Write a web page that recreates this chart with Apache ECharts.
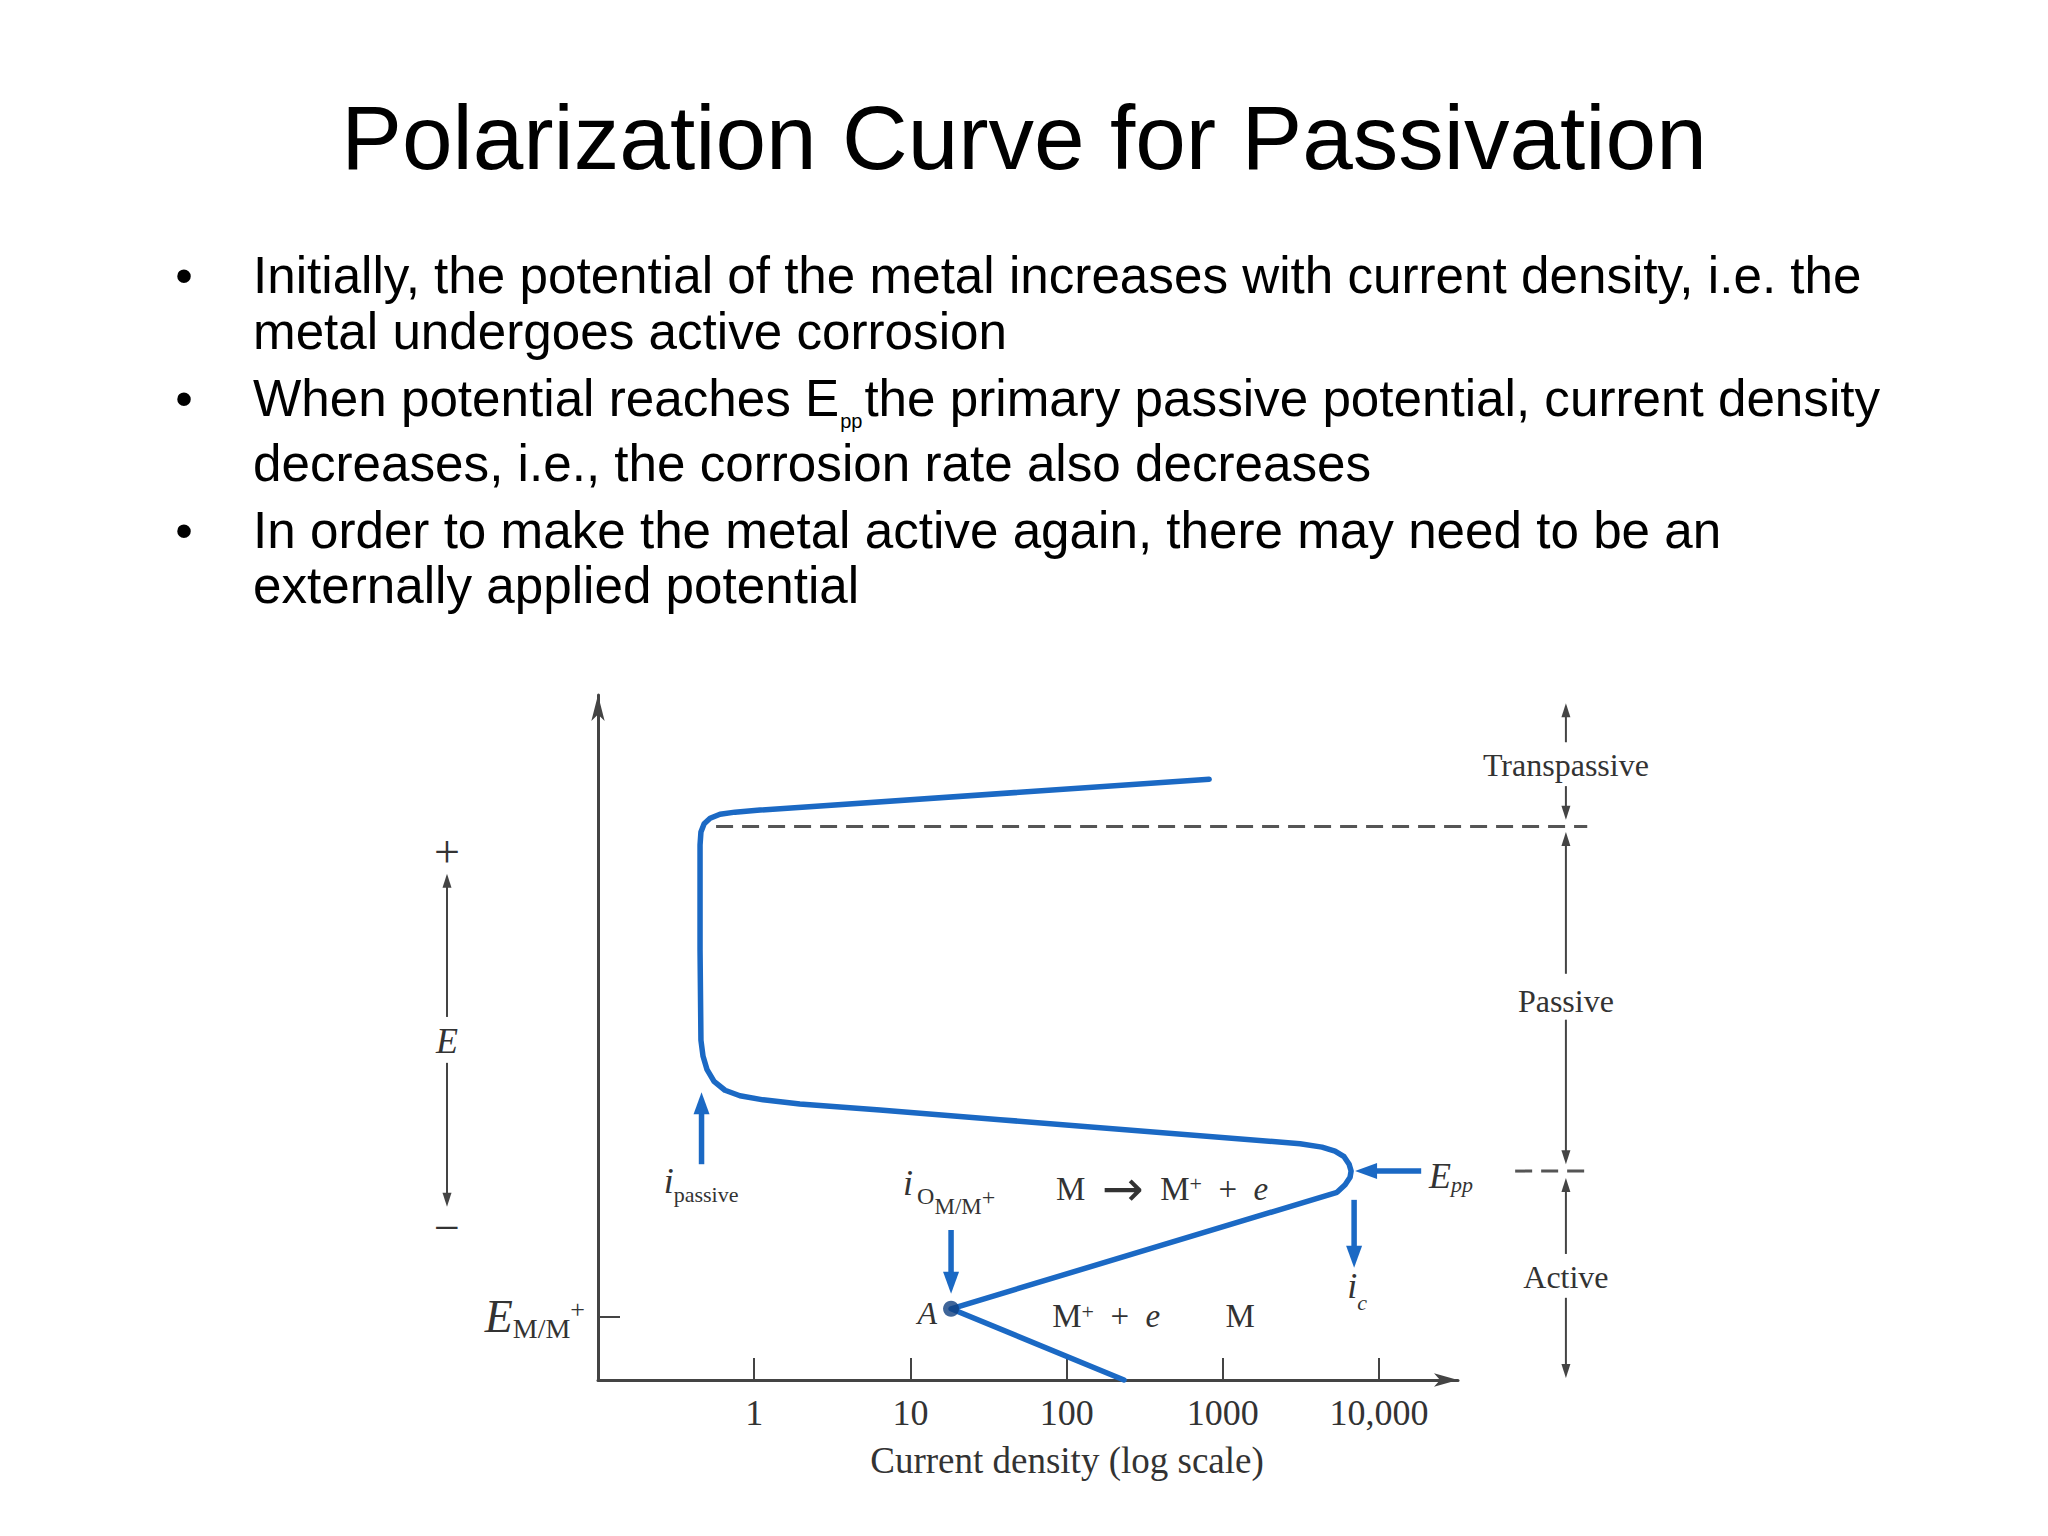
<!DOCTYPE html>
<html><head><meta charset="utf-8">
<script src="https://cdn.jsdelivr.net/npm/echarts@6/dist/echarts.min.js"></script>
<style>html,body{margin:0;padding:0;background:#fff}#c{width:2048px;height:1536px}</style>
</head><body><div id="c"></div>
<script>
// ---------- text content ----------
const titleText = 'Polarization Curve for Passivation';
const bulletLines = [
  '{t|Initially, the potential of the metal increases with current density, i.e. the}',
  '{t|metal undergoes active corrosion}',
  '{t|When potential reaches E}{p|pp}{t|the primary passive potential, current density}',
  '{t|decreases, i.e., the corrosion rate also decreases}',
  '{t|In order to make the metal active again, there may need to be an}',
  '{t|externally applied potential}'
];
const bulletStarts = [0, 2, 4];

// ---------- chart data (current density, log scale / potential, arbitrary units) ----------
const curveCurrent = [233, 18.2, 5380, 6060, 6520, 6620, 6430, 5970, 5220, 4310, 3120, 37.5, 6.38, 1.96, 1.14, 0.81, 0.65, 0.553, 0.499, 0.470, 0.456, 0.450, 0.450, 0.456, 0.478, 0.522, 0.604, 0.753, 1.09, 817];
const curvePotential = [0, 10.4, 27.4, 28.5, 29.6, 30.5, 31.5, 32.6, 33.4, 34.0, 34.5, 38.0, 39.4, 40.3, 40.9, 41.5, 42.3, 43.6, 45.3, 47.3, 49.6, 62.8, 78.1, 80.0, 81.2, 82.0, 82.6, 82.9, 83.2, 87.7];
const pointA = [18.2, 10.4];
const eqPotential = 9.3;           // E M/M+
const tickValues = [1, 10, 100, 1000, 10000];
const tickLabels = ['1', '10', '100', '1000', '10,000'];

// arrows [i1, E1, i2, E2]
const blueArrows = [
  [0.46, 31.5, 0.46, 42.0],
  [18.2, 21.9, 18.2, 12.6],
  [18600, 30.5, 7020, 30.5],
  [6920, 26.3, 6920, 16.4]
];
const grayArrows = [
  [157000, 93.1, 157000, 98.8],
  [157000, 86.7, 157000, 81.8],
  [157000, 59.3, 157000, 80.0],
  [157000, 52.6, 157000, 31.5],
  [157000, 18.4, 157000, 29.5],
  [157000, 12.0, 157000, 0.3],
  [0.0108, 53.0, 0.0108, 73.9],
  [0.0108, 46.3, 0.0108, 25.3]
];
const dashedLines = [
  [0.57, 80.8, 215000, 80.8],
  [74300, 30.5, 234000, 30.5]
];
const labelTexts = [
  '{i|i}{s|passive}',
  '{i|i}{o|O}{m|M/M}{q|+}',
  '{r|M  }{ar|\u2192}{r|  M}{u|+}{r|  +  }{e|e}',
  '{r|M}{u|+}{r|  +  }{e|e}',
  '{r|M}',
  '{ei|E}{si|pp}',
  '{i|i}{ci|c}',
  '{a|A}',
  '{g|Transpassive}',
  '{g|Passive}',
  '{g|Active}',
  '{ei|E}',
  '{pm|+}',
  '{pm|\u2212}'
];
const labelCurrent = [0.457, 17.7, 408, 179, 1290, 28900, 7230, 12.8, 157000, 157000, 157000, 0.0108, 0.0108, 0.0108];
const labelPotential = [29.1, 28.8, 27.9, 9.3, 9.3, 29.8, 13.7, 9.8, 89.8, 55.3, 15.0, 49.5, 77.2, 22.2];

// ---------- styles ----------
const SANS = '"Liberation Sans", Arial, Helvetica, sans-serif';
const SERIF = '"Liberation Serif", "Times New Roman", Times, serif';
const BLUE = '#1b69c4';
const INK = '#333333';
const LH = 44;
const RICH = {
  i:  {fontFamily: SERIF, fontStyle: 'italic', fontSize: 36, lineHeight: LH, color: INK},
  s:  {fontFamily: SERIF, fontSize: 22, lineHeight: LH, padding: [28, 0, 0, 0], color: INK},
  o:  {fontFamily: SERIF, fontSize: 24, lineHeight: LH, padding: [26, 0, 0, 4], color: INK},
  m:  {fontFamily: SERIF, fontSize: 23, lineHeight: LH, padding: [47, 0, 0, 0], color: INK},
  q:  {fontFamily: SERIF, fontSize: 24, lineHeight: LH, padding: [28, 0, 0, 0], color: INK},
  r:  {fontFamily: SERIF, fontSize: 33, lineHeight: LH, color: INK},
  u:  {fontFamily: SERIF, fontSize: 22, lineHeight: LH, padding: [0, 0, 10, 0], color: INK},
  e:  {fontFamily: SERIF, fontStyle: 'italic', fontSize: 33, lineHeight: LH, color: INK},
  ar: {fontFamily: '"DejaVu Sans", sans-serif', fontSize: 50, lineHeight: LH, color: INK},
  ei: {fontFamily: SERIF, fontStyle: 'italic', fontSize: 36, lineHeight: LH, color: INK},
  si: {fontFamily: SERIF, fontStyle: 'italic', fontSize: 22, lineHeight: LH, padding: [18, 0, 0, 0], color: INK},
  ci: {fontFamily: SERIF, fontStyle: 'italic', fontSize: 22, lineHeight: LH, padding: [32, 0, 0, 0], color: INK},
  a:  {fontFamily: SERIF, fontStyle: 'italic', fontSize: 32, lineHeight: LH, color: INK},
  g:  {fontFamily: SERIF, fontSize: 32, lineHeight: LH, color: '#444'},
  pm: {fontFamily: SERIF, fontSize: 46, lineHeight: LH, color: INK}
};

function arrowRenderer(color, shaft, headLen, headW) {
  return function (params, api) {
    const a = api.coord([api.value(0), api.value(1)]);
    const b = api.coord([api.value(2), api.value(3)]);
    const dx = b[0] - a[0], dy = b[1] - a[1];
    const len = Math.sqrt(dx * dx + dy * dy) || 1;
    const ux = dx / len, uy = dy / len;
    const bx = b[0] - ux * headLen, by = b[1] - uy * headLen;
    const nx = -uy * headW / 2, ny = ux * headW / 2;
    return {
      type: 'group',
      children: [
        {type: 'line', shape: {x1: a[0], y1: a[1], x2: bx + ux * 2, y2: by + uy * 2}, style: {stroke: color, lineWidth: shaft}},
        {type: 'polygon', shape: {points: [[b[0], b[1]], [bx + nx, by + ny], [bx - nx, by - ny]]}, style: {fill: color}}
      ]
    };
  };
}
function dashRenderer(params, api) {
  const a = api.coord([api.value(0), api.value(1)]);
  const b = api.coord([api.value(2), api.value(3)]);
  return {type: 'line', shape: {x1: a[0], y1: a[1], x2: b[0], y2: b[1]},
    style: {stroke: '#555', lineWidth: 3, lineDash: [17, 9]}};
}
function labelRenderer(params, api) {
  const p = api.coord([api.value(0), api.value(1)]);
  return {type: 'text', x: p[0], y: p[1], style: {
    text: labelTexts[api.value(2)], rich: RICH, align: 'center', verticalAlign: 'middle',
    fill: INK, fontFamily: SERIF, fontSize: 32}};
}

// ---------- slide text as graphic ----------
const graphics = [{
  type: 'text', x: 1024, y: 137,
  style: {text: titleText, fontFamily: SANS, fontSize: 91, fill: '#000', align: 'center', verticalAlign: 'middle'}
}];
const lineMid = [275.6, 331.6, 398.6, 463.6, 530.6, 585.6];
bulletLines.forEach(function (t, k) {
  graphics.push({type: 'text', x: 253, y: lineMid[k], style: {
    text: t, align: 'left', verticalAlign: 'middle', fill: '#000',
    rich: {
      t: {fontFamily: SANS, fontSize: 51.2, lineHeight: 60, color: '#000'},
      p: {fontFamily: SANS, fontSize: 20, lineHeight: 60, padding: [45, 2, 0, 1], color: '#000'}
    }}});
});
bulletStarts.forEach(function (k) {
  graphics.push({type: 'text', x: 184, y: lineMid[k], style: {
    text: '\u2022', fontFamily: SANS, fontSize: 50, fill: '#000', align: 'center', verticalAlign: 'middle'}});
});

const chart = echarts.init(document.getElementById('c'), null, {renderer: 'svg', width: 2048, height: 1536});
chart.setOption({
  backgroundColor: '#ffffff',
  animation: false,
  graphic: graphics,
  grid: {left: 598, right: 590, top: 695, bottom: 156, containLabel: false},
  xAxis: {
    type: 'log', logBase: 10, min: 0.1, max: 32000,
    name: 'Current density (log scale)', nameLocation: 'middle', nameGap: 62,
    nameTextStyle: {fontFamily: SERIF, fontSize: 37, lineHeight: 37, color: INK, padding: [0, 0, 0, 78]},
    axisLine: {show: true, onZero: false, symbol: ['none', 'arrow'], symbolSize: [10, 24], lineStyle: {color: '#444', width: 3}},
    axisTick: {show: true, inside: true, length: 22, customValues: tickValues, lineStyle: {color: '#444', width: 2}},
    axisLabel: {show: true, customValues: tickValues, margin: 15, fontFamily: SERIF, fontSize: 36, lineHeight: 36, color: INK,
      formatter: function (v) {
        const k = tickValues.findIndex(function (t) { return Math.abs(Math.log10(t) - Math.log10(v)) < 1e-6; });
        return k >= 0 ? tickLabels[k] : '';
      }},
    splitLine: {show: false}, minorTick: {show: false}, minorSplitLine: {show: false}
  },
  yAxis: {
    type: 'value', min: 0, max: 100,
    axisLine: {show: true, onZero: false, symbol: ['none', 'arrow'], symbolSize: [10, 26], lineStyle: {color: '#444', width: 3}},
    axisTick: {show: true, inside: true, length: 22, customValues: [eqPotential], lineStyle: {color: '#444', width: 2}},
    axisLabel: {show: true, customValues: [eqPotential], margin: 13,
      formatter: function () { return '{e|E}{s|M/M}{p|+}'; },
      rich: {
        e: {fontFamily: SERIF, fontStyle: 'italic', fontSize: 46, lineHeight: 50, color: INK},
        s: {fontFamily: SERIF, fontSize: 28, lineHeight: 50, padding: [25, 0, 0, 0], color: INK},
        p: {fontFamily: SERIF, fontSize: 26, lineHeight: 50, padding: [0, 0, 14, 0], color: INK}
      }},
    splitLine: {show: false}
  },
  series: [
    {type: 'custom', name: 'dashes', renderItem: dashRenderer, clip: false, z: 1,
      data: dashedLines},
    {type: 'line', name: 'curve', data: curveCurrent.map(function (v, k) { return [v, curvePotential[k]]; }),
      showSymbol: false, symbol: 'none', smooth: false, clip: false, z: 3,
      lineStyle: {color: BLUE, width: 5.5, cap: 'round', join: 'round'}},
    {type: 'scatter', name: 'A', data: [pointA], symbolSize: 16, itemStyle: {color: '#0f3f7f'}, z: 5},
    {type: 'custom', name: 'blueArrows', renderItem: arrowRenderer(BLUE, 5.5, 22, 16), clip: false, z: 4,
      data: blueArrows},
    {type: 'custom', name: 'grayArrows', renderItem: arrowRenderer('#444', 2, 14, 9), clip: false, z: 4,
      data: grayArrows},
    {type: 'custom', name: 'labels', renderItem: labelRenderer, clip: false, z: 6,
      data: labelCurrent.map(function (v, k) { return [v, labelPotential[k], k]; })}
  ]
});
</script>
</body></html>
